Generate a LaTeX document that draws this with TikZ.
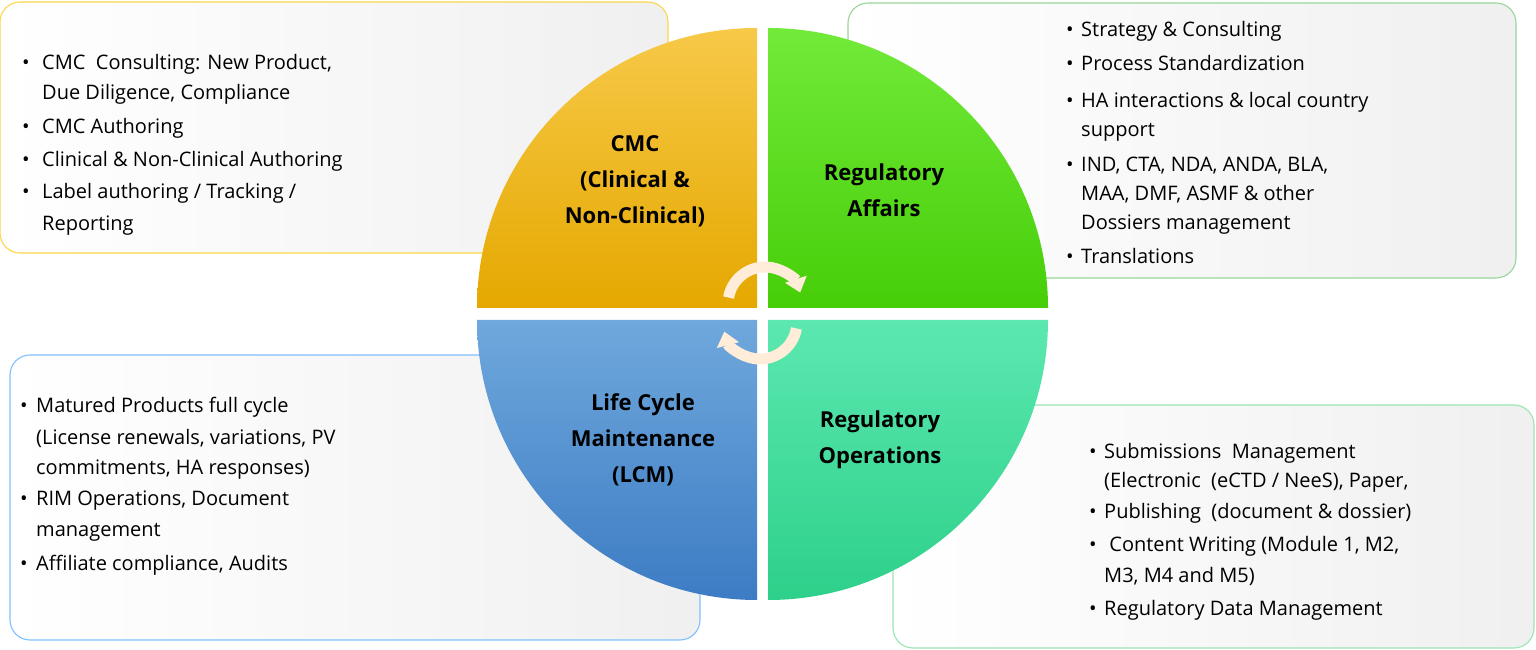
\documentclass[tikz,border=0pt]{standalone}
\usepackage{fontspec}
\setmainfont{Open Sans}
\usetikzlibrary{arrows.meta,calc}
\definecolor{goldA}{HTML}{F7C948}
\definecolor{goldB}{HTML}{E5A800}
\definecolor{blueA}{HTML}{6FA8DC}
\definecolor{blueB}{HTML}{3D7CC4}
\definecolor{tealA}{HTML}{5CE8B0}
\definecolor{tealB}{HTML}{2DD08A}
\definecolor{grnA}{HTML}{72EA3A}
\definecolor{grnB}{HTML}{46CE08}
\begin{document}
\begin{tikzpicture}[x=1pt,y=1pt,
  box/.style={rounded corners=20pt,line width=1.1pt,left color=white,right color=black!6},
  txt/.style={anchor=base west,inner sep=0pt,font=\fontsize{20}{24}\selectfont},
  bul/.style={anchor=base west,inner sep=0pt,font=\fontsize{20}{24}\selectfont},
  ttl/.style={align=center,font=\fontsize{22}{36}\selectfont\bfseries},
  cyc/.style={line width=11pt,draw=orange!15!white,-{Triangle[length=14pt,width=22pt]}}]
\fill[white] (0,0) rectangle (1536,650);
\useasboundingbox (0,0) rectangle (1536,650);
% boxes
\path[box,draw=yellow!60!orange!70] (0,397) rectangle (668,648);
\path[box,draw=green!60!black!40] (848,372) rectangle (1516,647);
\path[box,draw=blue!50!cyan!50] (10,10) rectangle (700,295);
\path[box,draw=teal!50!green!40] (893,2) rectangle (1534,245);
% quadrants
\shade[top color=goldA, bottom color=goldB] (757,342) -- (477,342) arc (180:90:280) -- cycle;
\shade[top color=grnA, bottom color=grnB] (768,342) -- (768,622) arc (90:0:280) -- cycle;
\shade[top color=blueA, bottom color=blueB] (757,330) -- (477,330) arc (180:270:280) -- cycle;
\shade[top color=tealA, bottom color=tealB] (768,330) -- (1048,330) arc (0:-90:280) -- cycle;
% titles
\node[ttl] (cmc) at (635,469) {CMC\\(Clinical \&\\Non-Clinical)};
\node[ttl] (ra) at (884,460) {Regulatory\\Affairs};
\node[ttl] (lcm) at (643,210) {Life Cycle\\Maintenance\\(LCM)};
\node[ttl] (ro) at (880,210) {Regulatory\\Operations};
% cycle arrows
\coordinate (c1) at (765,346);
\coordinate (c2) at (760,328);
\draw[cyc] ($(c1)+(170:37)$) arc (170:18:37);
\draw[cyc] ($(c2)+(-10:37)$) arc (-10:-165:37);
% TL text
\node[bul] (b11) at (22,580) {•}; \node[txt] (t11) at (42,580) {CMC\ \ Consulting: New Product,};
\node[txt] (t12) at (42,550) {Due Diligence, Compliance};
\node[bul] (b13) at (22,516) {•}; \node[txt] (t13) at (42,516) {CMC Authoring};
\node[bul] (b14) at (22,483) {•}; \node[txt] (t14) at (42,483) {Clinical \& Non-Clinical Authoring};
\node[bul] (b15) at (22,451) {•}; \node[txt] (t15) at (42,451) {Label authoring / Tracking /};
\node[txt] (t16) at (42,419) {Reporting};
% TR text
\node[bul] (b21) at (1066,613) {•}; \node[txt] (t21) at (1081,613) {Strategy \& Consulting};
\node[bul] (b22) at (1066,579) {•}; \node[txt] (t22) at (1081,579) {Process Standardization};
\node[bul] (b23) at (1066,542) {•}; \node[txt] (t23) at (1081,542) {HA interactions \& local country};
\node[txt] (t24) at (1081,513) {support};
\node[bul] (b25) at (1066,478) {•}; \node[txt] (t25) at (1081,478) {IND, CTA, NDA, ANDA, BLA,};
\node[txt] (t26) at (1081,449) {MAA, DMF, ASMF \& other};
\node[txt] (t27) at (1081,420) {Dossiers management};
\node[bul] (b28) at (1066,386) {•}; \node[txt] (t28) at (1081,386) {Translations};
% BL text
\node[bul] (b31) at (20,237) {•}; \node[txt] (t31) at (36,237) {Matured Products full cycle};
\node[txt] (t32) at (36,205) {(License renewals, variations, PV};
\node[txt] (t33) at (36,175) {commitments, HA responses)};
\node[bul] (b34) at (20,144) {•}; \node[txt] (t34) at (36,144) {RIM Operations, Document};
\node[txt] (t35) at (36,113) {management};
\node[bul] (b36) at (20,79) {•}; \node[txt] (t36) at (36,79) {Affiliate compliance, Audits};
% BR text
\node[bul] (b41) at (1089,191) {•}; \node[txt] (t41) at (1104,191) {Submissions\ \ Management};
\node[txt] (t42) at (1104,162) {(Electronic\ \ (eCTD / NeeS), Paper,};
\node[bul] (b43) at (1089,131) {•}; \node[txt] (t43) at (1104,131) {Publishing\ \ (document \& dossier)};
\node[bul] (b44) at (1089,98) {•}; \node[txt] (t44) at (1104,98) {\ Content Writing (Module 1, M2,};
\node[txt] (t45) at (1104,67) {M3, M4 and M5)};
\node[bul] (b46) at (1089,34) {•}; \node[txt] (t46) at (1104,34) {Regulatory Data Management};
\end{tikzpicture}
\end{document}
